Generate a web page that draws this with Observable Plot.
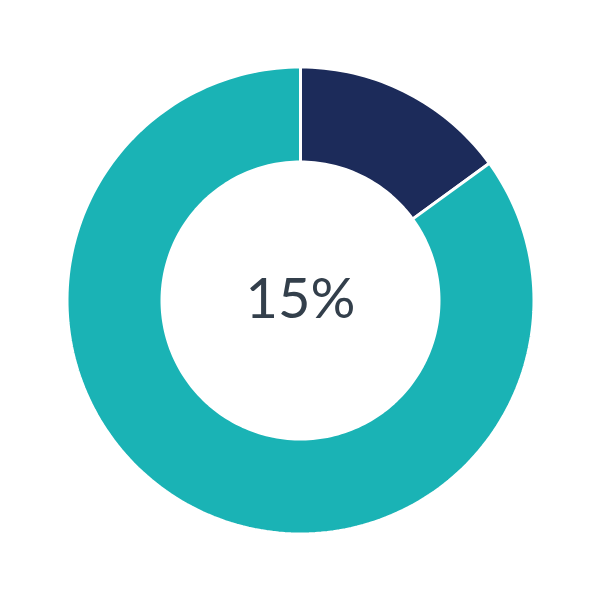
<!DOCTYPE html>
<html>
<head>
<meta charset="utf-8">
<script src="https://cdn.jsdelivr.net/npm/d3@7"></script>
<script src="https://cdn.jsdelivr.net/npm/@observablehq/plot@0.6"></script>
<style>
  html, body { margin: 0; padding: 0; background: #fff; }
  #chart { width: 600px; height: 600px; }
</style>
</head>
<body>
<div id="chart"></div>
<script>
const categories = ["Share", "Remainder"];
const values = [15, 85];
const colors = ["#1c2b5a", "#1ab3b5"];
const centerLabel = "15%";

const outerR = 233.5;
const innerR = 138.5;
const steps = 240;

const pie = d3.pie().sort(null).value(d => d.value);
const arcs = pie(categories.map((c, i) => ({category: c, value: values[i]})));

const pts = [];
for (const a of arcs) {
  const cat = a.data.category;
  const n = Math.max(2, Math.ceil(steps * (a.endAngle - a.startAngle) / (2 * Math.PI)));
  const ring = [];
  for (let k = 0; k <= n; k++) {
    const t = a.startAngle + (a.endAngle - a.startAngle) * k / n;
    ring.push({category: cat, x: outerR * Math.sin(t), y: outerR * Math.cos(t)});
  }
  for (let k = n; k >= 0; k--) {
    const t = a.startAngle + (a.endAngle - a.startAngle) * k / n;
    ring.push({category: cat, x: innerR * Math.sin(t), y: innerR * Math.cos(t)});
  }
  ring.push({...ring[0]});
  pts.push(...ring);
}

const chart = Plot.plot({
  width: 600,
  height: 600,
  margin: 0,
  x: {domain: [-300, 300], axis: null},
  y: {domain: [-300, 300], axis: null},
  color: {domain: categories, range: colors},
  style: {background: "#fff"},
  marks: [
    Plot.line(pts, {x: "x", y: "y", z: "category", fill: "category", stroke: "#fff", strokeWidth: 3, curve: "linear"}),
    Plot.text([centerLabel], {x: () => 0, y: () => 0, text: d => d, fontSize: 56, fontFamily: "Lato", fill: "#333f4b", textAnchor: "middle", dy: 0})
  ]
});
document.getElementById("chart").appendChild(chart);
</script>
</body>
</html>
